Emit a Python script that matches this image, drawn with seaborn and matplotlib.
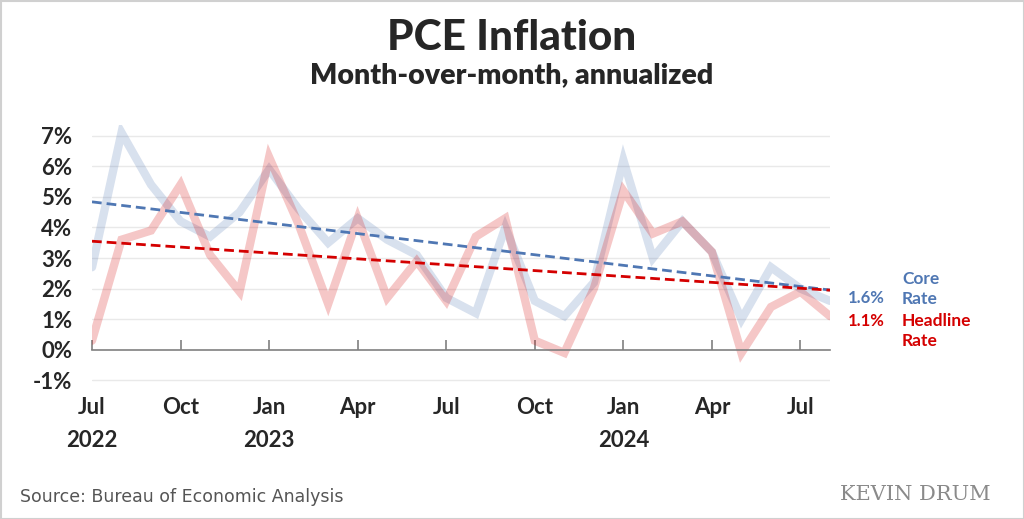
"""
PCE inflation, month-over-month annualized: core vs headline with linear trends.
Values read off a Kevin Drum chart (source: Bureau of Economic Analysis).
"""

import matplotlib.pyplot as plt
import pandas as pd
import seaborn as sns
from matplotlib.patches import Rectangle

months = pd.date_range("2022-07-01", periods=26, freq="MS")

core_rate = [2.7, 7.1, 5.4, 4.2, 3.7, 4.5, 5.9, 4.6, 3.5, 4.3, 3.6, 3.1,
             1.7, 1.2, 4.0, 1.6, 1.1, 2.2, 6.2, 3.0, 4.2, 3.2, 1.0, 2.7,
             2.0, 1.6]
headline_rate = [0.3, 3.6, 3.9, 5.4, 3.1, 1.9, 6.3, 4.1, 1.5, 4.3, 1.7, 2.9,
                 1.6, 3.7, 4.3, 0.3, -0.1, 2.0, 5.2, 3.8, 4.2, 3.2, -0.1, 1.4,
                 1.9, 1.1]

tick_pos = [0, 3, 6, 9, 12, 15, 18, 21, 24]
tick_labels = ["Jul\n2022", "Oct", "Jan\n2023", "Apr", "Jul", "Oct",
               "Jan\n2024", "Apr", "Jul"]

CORE_COLOR = "#4f77b3"
HEAD_COLOR = "#d40000"

df = pd.DataFrame({"month": months, "core": core_rate, "headline": headline_rate})
df["idx"] = range(len(df))

sns.set_style("white")
plt.rcParams["font.family"] = ["Lato", "DejaVu Sans"]

fig = plt.figure(figsize=(10.24, 5.19), dpi=100)
ax = fig.add_axes([92 / 1024, 1 - 385 / 519, 738 / 1024, 260 / 519])

# gridlines
for y in range(-1, 8):
    if y != 0:
        ax.axhline(y, color="#e9e9e9", lw=1, zorder=0)

# raw series, thick and faded
sns.lineplot(data=df, x="idx", y="core", ax=ax, color=CORE_COLOR,
             alpha=0.22, lw=6, solid_joinstyle="miter", zorder=2)
sns.lineplot(data=df, x="idx", y="headline", ax=ax, color=HEAD_COLOR,
             alpha=0.22, lw=6, solid_joinstyle="miter", zorder=2)

# linear trends
sns.regplot(data=df, x="idx", y="core", ax=ax, ci=None, scatter=False, truncate=True,
            line_kws=dict(color=CORE_COLOR, lw=2, ls=(0, (3.5, 1.8)), zorder=3))
sns.regplot(data=df, x="idx", y="headline", ax=ax, ci=None, scatter=False, truncate=True,
            line_kws=dict(color=HEAD_COLOR, lw=2, ls=(0, (3.5, 1.8)), zorder=3))

ax.set_xlim(0, len(df) - 1)
ax.set_ylim(-1.15, 7.35)
ax.set_xlabel("")
ax.set_ylabel("")

for s in ["top", "right", "left"]:
    ax.spines[s].set_visible(False)
ax.spines["bottom"].set_position(("data", 0))
ax.spines["bottom"].set_color("#808080")
ax.spines["bottom"].set_linewidth(1.2)

ax.set_xticks(tick_pos)
ax.set_xticklabels(tick_labels, fontsize=16, fontweight="bold", linespacing=1.72,
                   va="top")
ax.tick_params(axis="x", direction="in", length=7, width=1.2, color="#808080",
               pad=34, bottom=True)
ax.set_yticks(range(-1, 8))
ax.set_yticklabels([f"{v}%" for v in range(-1, 8)], fontsize=16, fontweight="bold")
ax.tick_params(axis="y", length=0, pad=14)

# end labels
last = df.iloc[-1]
ax.annotate(f"{last['core']:.1f}%", xy=(1, 0), xycoords="axes fraction",
            xytext=(848, 519 - 298), textcoords="figure pixels",
            color=CORE_COLOR, fontsize=12, fontweight="bold", va="center")
ax.annotate(f"{last['headline']:.1f}%", xy=(1, 0), xycoords="axes fraction",
            xytext=(848, 519 - 321), textcoords="figure pixels",
            color=HEAD_COLOR, fontsize=12, fontweight="bold", va="center")
fig.text(902 / 1024, 1 - 289 / 519, "Core\nRate", color=CORE_COLOR, fontsize=12.5,
         fontweight="bold", va="center", linespacing=1.35)
fig.text(902 / 1024, 1 - 331 / 519, "Headline\nRate", color=HEAD_COLOR, fontsize=12.5,
         fontweight="bold", va="center", linespacing=1.35)

fig.text(0.5, 1 - 38 / 519, "PCE Inflation", ha="center", va="center",
         fontsize=30.5, fontweight="black")
fig.text(0.5, 1 - 75 / 519, "Month-over-month, annualized", ha="center", va="center",
         fontsize=20.5, fontweight="heavy")

fig.text(20 / 1024, 1 - 497 / 519, "Source: Bureau of Economic Analysis",
         family="DejaVu Sans", fontsize=12.5, color="#555555", va="center")
fig.text(990 / 1024, 1 - 494 / 519, "KEVIN DRUM", family="DejaVu Serif",
         fontsize=15, color="#8a8a8a", ha="right", va="center")

fig.patches.append(Rectangle((0.5 / 1024, 0.5 / 519), 1 - 1 / 1024, 1 - 1 / 519,
                             transform=fig.transFigure, fill=False,
                             edgecolor="#d0d0d0", lw=1.5))

fig.savefig("out.png", dpi=100)
